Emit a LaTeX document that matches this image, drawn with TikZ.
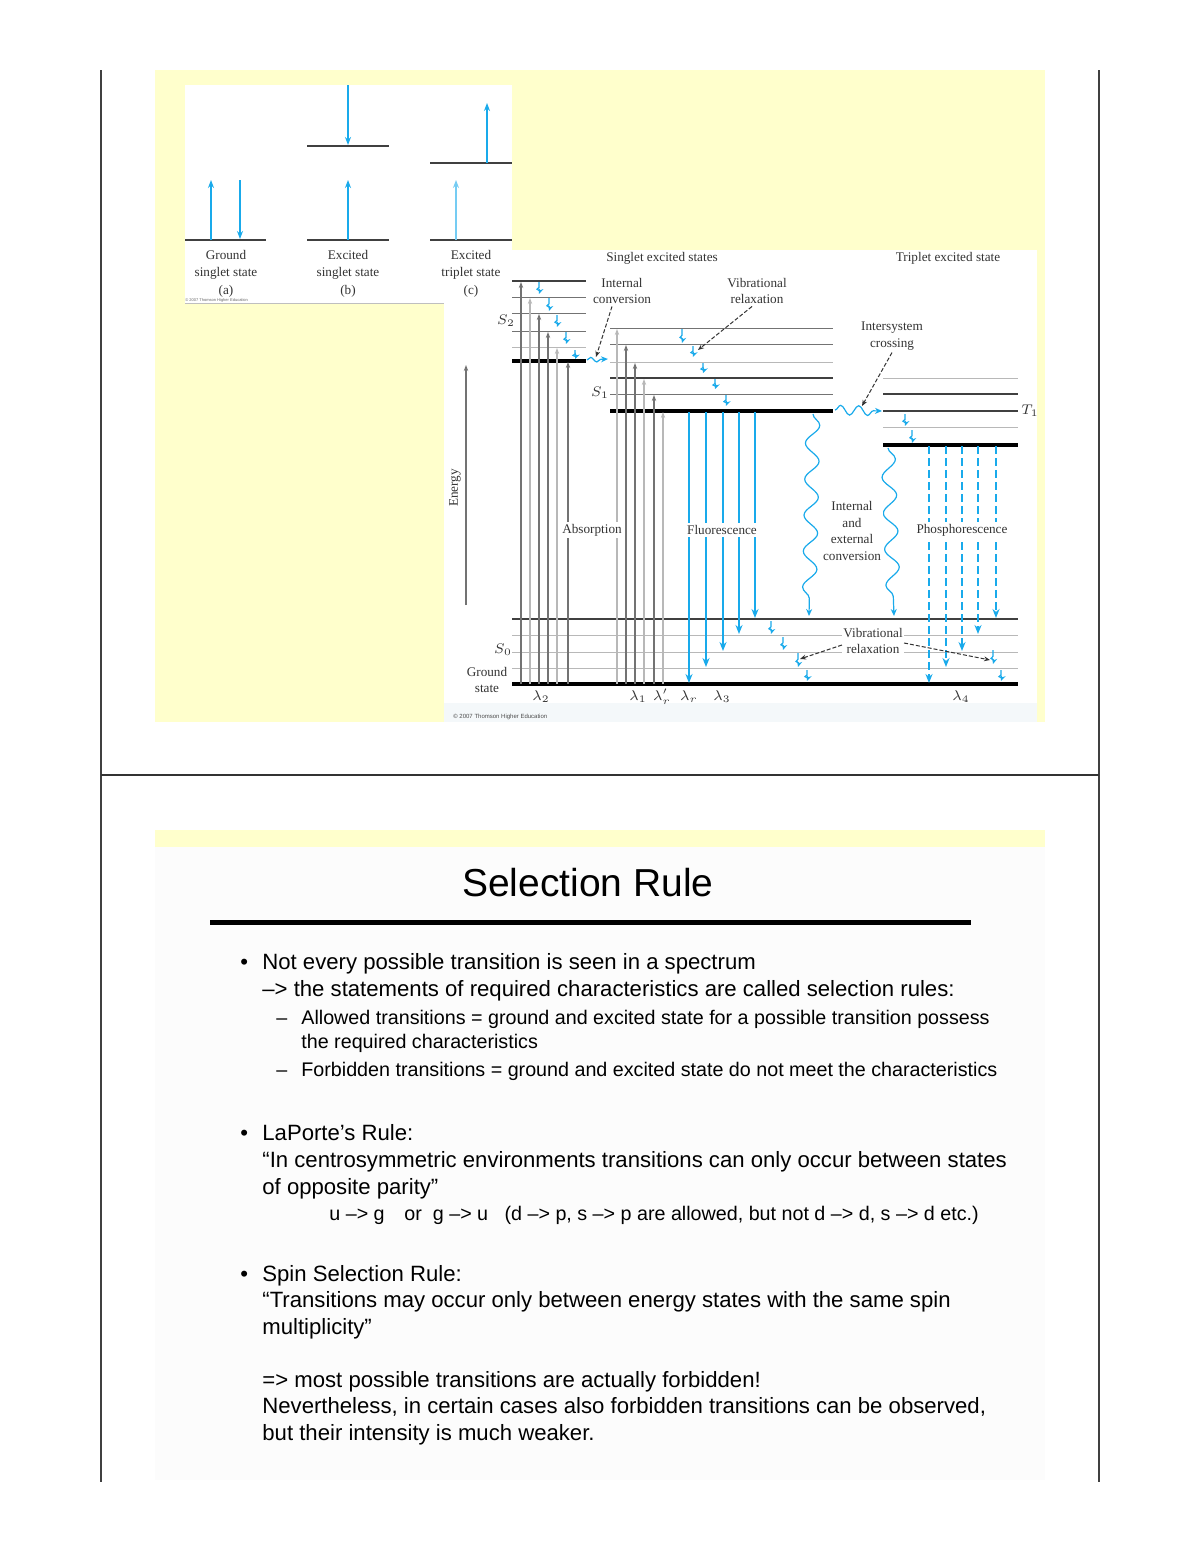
\documentclass[tikz,border=0pt]{standalone}
\usepackage{fontspec}
\setmainfont{Liberation Sans}
\newfontfamily\jserif{Liberation Serif}
\usetikzlibrary{arrows.meta,decorations.pathmorphing}
\definecolor{slideyellow}{RGB}{255,255,204}
\definecolor{jblue}{RGB}{25,170,235}
\definecolor{paneltint}{RGB}{244,248,250}
\newcommand{\vrel}[3]{\draw[vrelarrow] (#1,#2) -- (#1,{#2+0.45*(#3-#2)}) -- (#1-2,{#2+0.6*(#3-#2)}) -- (#1+1,{#2+0.75*(#3-#2)}) -- (#1,#3);}
\begin{document}
\begin{tikzpicture}[x=0.5pt,y=-0.5pt,
  lvdark/.style={draw=black!75,line width=0.6pt},
  lvmid/.style={draw=black!55,line width=0.5pt},
  lvlight/.style={draw=black!28,line width=0.5pt},
  lvthick/.style={draw=black,line width=2pt},
  absdark/.style={draw=black!55,line width=0.6pt,-{Stealth[length=3pt,width=2.2pt]}},
  abslight/.style={draw=black!28,line width=0.6pt,-{Stealth[length=3pt,width=2.2pt]}},
  fluor/.style={draw=jblue,line width=1.2pt,-{Stealth[length=4.5pt,width=3.5pt]}},
  phos/.style={fluor,dash pattern=on 4pt off 2pt},
  spin/.style={draw=jblue,line width=0.7pt,-{Stealth[length=4pt,width=3pt]}},
  vrelarrow/.style={draw=jblue,line width=0.6pt,-{Stealth[length=3pt,width=2.6pt]}},
  wavy/.style={draw=jblue,line width=0.6pt,-{Stealth[length=3.5pt,width=3pt]},decorate},
  lblarrow/.style={draw=black!80,line width=0.5pt,dash pattern=on 2pt off 1pt,-{Stealth[length=3pt,width=2.4pt]}},
  jlabel/.style={font=\jserif\fontsize{6.6}{8.4}\selectfont,text=black!80,align=center,inner sep=1pt},
  jfill/.style={jlabel,fill=white},
  frame/.style={draw=black!75,line width=0.6pt},
  body/.style={anchor=base west,font=\fontsize{11.07}{13}\selectfont,inner sep=0pt},
  sub/.style={anchor=base west,font=\fontsize{9.85}{11}\selectfont,inner sep=0pt}
]
\useasboundingbox (0,0) rectangle (1200,1553);
\fill[white] (0,0) rectangle (1200,1553);

% page frame
\draw[frame] (101,70) -- (101,1482);
\draw[frame] (1099,70) -- (1099,1482);
\draw[draw=black!80,line width=1pt] (101,775) -- (1099,775);

% ===== top slide =====
\fill[slideyellow] (155,70) rectangle (1045,722);
\fill[white] (185,85) rectangle (512,303);
\draw[black!25,line width=0.5pt] (185,303) -- (512,303);
\fill[white] (444,250) rectangle (1037,722);
\fill[paneltint] (444,703) rectangle (1037,722);

% --- spin diagrams ---
\draw[lvdark,line width=1pt] (185,240) -- (266,240);
\draw[spin] (211,240) -- (211,180);
\draw[spin] (240,180) -- (240,239);
\draw[lvdark,line width=1pt] (307,240) -- (389,240);
\draw[lvdark,line width=1pt] (307,146) -- (389,146);
\draw[spin] (348,240) -- (348,180);
\draw[spin] (348,85) -- (348,145);
\draw[lvdark,line width=1pt] (430,240) -- (512,240);
\draw[lvdark,line width=1pt] (430,163) -- (512,163);
\draw[spin,draw=jblue!60] (456,240) -- (456,180);
\draw[spin] (487,163) -- (487,103);
\node[jlabel] (ga) at (226,274) {Ground\\singlet state\\[1pt](a)};
\node[jlabel] (gb) at (348,274) {Excited\\singlet state\\[1pt](b)};
\node[jlabel] (gc) at (471,274) {Excited\\triplet state\\[1pt](c)};
\node[font=\fontsize{2}{2}\selectfont,text=black!60,anchor=west,inner sep=0pt] (cp1) at (185,300) {\textcopyright\ 2007 Thomson Higher Education};

% --- levels ---
% S2
\draw[lvdark,line width=0.9pt] (512,281) -- (586,281);
\draw[lvmid] (512,297) -- (586,297);
\draw[lvmid] (512,313) -- (586,313);
\draw[lvmid] (512,331) -- (586,331);
\draw[lvlight] (512,347) -- (586,347);
\draw[lvthick] (512,361) -- (586,361);
% S1
\draw[lvmid] (610,328) -- (833,328);
\draw[lvmid] (610,344) -- (833,344);
\draw[lvlight] (610,362) -- (833,362);
\draw[lvdark] (610,378) -- (833,378);
\draw[lvmid] (610,394) -- (833,394);
\draw[lvthick] (610,411) -- (833,411);
% T1
\draw[lvlight] (883,378) -- (1018,378);
\draw[lvdark] (883,394) -- (1018,394);
\draw[lvdark] (883,411) -- (1018,411);
\draw[lvlight] (883,427) -- (1018,427);
\draw[lvthick] (883,445) -- (1018,445);
% S0
\draw[lvdark] (512,619) -- (1018,619);
\draw[lvlight] (512,635) -- (1018,635);
\draw[lvlight] (512,652) -- (1018,652);
\draw[lvlight] (512,668) -- (1018,668);
\draw[lvthick,line width=2.4pt] (512,684) -- (1018,684);

% energy axis
\draw[absdark,line width=0.8pt] (466,605) -- (466,365);
\node[jlabel,rotate=90] (en) at (455,488) {Energy};

% absorption arrows
\draw[absdark] (521,684) -- (521,282);
\draw[abslight] (530,684) -- (530,298);
\draw[absdark] (539,684) -- (539,314);
\draw[absdark] (548,684) -- (548,332);
\draw[abslight] (557,684) -- (557,348);
\draw[absdark] (568,684) -- (568,362);
\draw[abslight] (617,684) -- (617,329);
\draw[absdark] (626,684) -- (626,345);
\draw[absdark] (635,684) -- (635,363);
\draw[abslight] (644,684) -- (644,379);
\draw[absdark] (654,684) -- (654,395);
\draw[abslight] (663,684) -- (663,412);

% fluorescence
\draw[fluor] (689,412) -- (689,683);
\draw[fluor] (706,412) -- (706,667);
\draw[fluor] (723,412) -- (723,651);
\draw[fluor] (739,412) -- (739,634);
\draw[fluor] (755,412) -- (755,618);

% phosphorescence
\draw[phos] (929,446) -- (929,683);
\draw[phos] (946,446) -- (946,667);
\draw[phos] (962,446) -- (962,651);
\draw[phos] (978,446) -- (978,634);
\draw[phos] (996,446) -- (996,618);

% vibrational relaxation small arrows
\vrel{539}{282}{294}
\vrel{549}{298}{311}
\vrel{557}{315}{327}
\vrel{566}{332}{344}
\vrel{575}{350}{359}
\vrel{682}{329}{343}
\vrel{693}{346}{357}
\vrel{703}{363}{373}
\vrel{715}{379}{389}
\vrel{726}{395}{406}
\vrel{905}{414}{426}
\vrel{912}{430}{443}
\vrel{771}{621}{634}
\vrel{783}{637}{650}
\vrel{798}{653}{667}
\vrel{807}{670}{681}
\vrel{993}{650}{664}
\vrel{1001}{670}{681}

% wavy transitions
\draw[wavy,decoration={snake,amplitude=1.2pt,segment length=6pt,post length=3pt}] (587,360) -- (608,359);
\draw[wavy,decoration={snake,amplitude=2.4pt,segment length=9pt,post length=4pt}] (835,410) -- (882,411);
\draw[wavy,decoration={snake,amplitude=3.5pt,segment length=18pt,post length=3pt}] (813,414) -- (809,616);
\draw[wavy,decoration={snake,amplitude=3.5pt,segment length=18pt,post length=3pt}] (888,448) -- (894,616);

% labels
\node[jlabel] (sing) at (662,258) {Singlet excited states};
\node[jlabel] (trip) at (948,258) {Triplet excited state};
\node[jlabel] (ic) at (622,291) {Internal\\conversion};
\node[jlabel] (vr1) at (757,291) {Vibrational\\relaxation};
\node[jlabel] (isc) at (892,336) {Intersystem\\crossing};
\node[jfill] (iec) at (852,531) {Internal\\and\\external\\conversion};
\node[jfill] (abs) at (592,530) {Absorption};
\node[jfill] (flu) at (722,530) {Fluorescence};
\node[jfill] (pho) at (962,530) {Phosphorescence};
\node[jfill,inner sep=0.5pt] (vr2) at (873,641) {Vibrational\\relaxation};
\node[jlabel] (s2) at (506,321) {$S_2$};
\node[jlabel] (s1) at (600,393) {$S_1$};
\node[jlabel] (t1) at (1030,411) {$T_1$};
\node[jlabel] (s0) at (503,650) {$S_0$};
\node[jlabel] (gs) at (487,680) {Ground\\state};
\node[jlabel] (l2) at (541,697) {$\lambda_2$};
\node[jlabel] (l1) at (638,697) {$\lambda_1$};
\node[jlabel] (lrp) at (662,697) {$\lambda'_r$};
\node[jlabel] (lr) at (689,697) {$\lambda_r$};
\node[jlabel] (l3) at (722,697) {$\lambda_3$};
\node[jlabel] (l4) at (961,697) {$\lambda_4$};
\node[font=\fontsize{3}{3}\selectfont,text=black!70,anchor=west,inner sep=0pt] (cp2) at (453,717) {\textcopyright\ 2007 Thomson Higher Education};

\coordinate (icend) at (596,357);
\coordinate (vr1end) at (698,350);
\coordinate (iscend) at (862,406);
\coordinate (vr2a) at (800,659);
\coordinate (vr2b) at (990,660);
\draw[lblarrow] (ic.south) ++(-10,0) -- (icend);
\draw[lblarrow] (vr1.south) ++(-5,0) -- (vr1end);
\draw[lblarrow] (isc.south) -- (iscend);
\draw[lblarrow] (vr2.west) ++(0,4) -- (vr2a);
\draw[lblarrow] (vr2.east) ++(0,2) -- (vr2b);

% ===== bottom slide =====
\fill[slideyellow] (155,830) rectangle (1045,847);
\fill[black!1] (155,847) rectangle (1045,1480);
\node[font=\fontsize{19.5}{22}\selectfont,inner sep=0pt] (title) at (588,883) {Selection Rule};
\draw[black,line width=2.5pt] (210,922) -- (971,922);

\node[body] (b1) at (240,969) {•};
\node[body] (t1a) at (262,969) {Not every possible transition is seen in a spectrum};
\node[body] (t1b) at (262,996) {–> the statements of required characteristics are called selection rules:};
\node[sub] (d1) at (276,1024) {–};
\node[sub] (t1c) at (301,1024) {Allowed transitions = ground and excited state for a possible transition possess};
\node[sub] (t1d) at (301,1048) {the required characteristics};
\node[sub] (d2) at (276,1076) {–};
\node[sub] (t1e) at (301,1076) {Forbidden transitions = ground and excited state do not meet the characteristics};

\node[body] (b2) at (240,1140) {•};
\node[body] (t2a) at (262,1140) {LaPorte’s Rule:};
\node[body] (t2b) at (262,1167) {“In centrosymmetric environments transitions can only occur between states};
\node[body] (t2c) at (262,1194) {of opposite parity”};
\node[sub] (t2d) at (329,1220) {u –> g\quad or\ \ g –> u\ \ \ (d –> p, s –> p are allowed, but not d –> d, s –> d etc.)};

\node[body] (b3) at (240,1281) {•};
\node[body] (t3a) at (262,1281) {Spin Selection Rule:};
\node[body] (t3b) at (262,1307) {“Transitions may occur only between energy states with the same spin};
\node[body] (t3c) at (262,1334) {multiplicity”};
\node[body] (t3d) at (262,1387) {=> most possible transitions are actually forbidden!};
\node[body] (t3e) at (262,1413) {Nevertheless, in certain cases also forbidden transitions can be observed,};
\node[body] (t3f) at (262,1440) {but their intensity is much weaker.};
\end{tikzpicture}
\end{document}
